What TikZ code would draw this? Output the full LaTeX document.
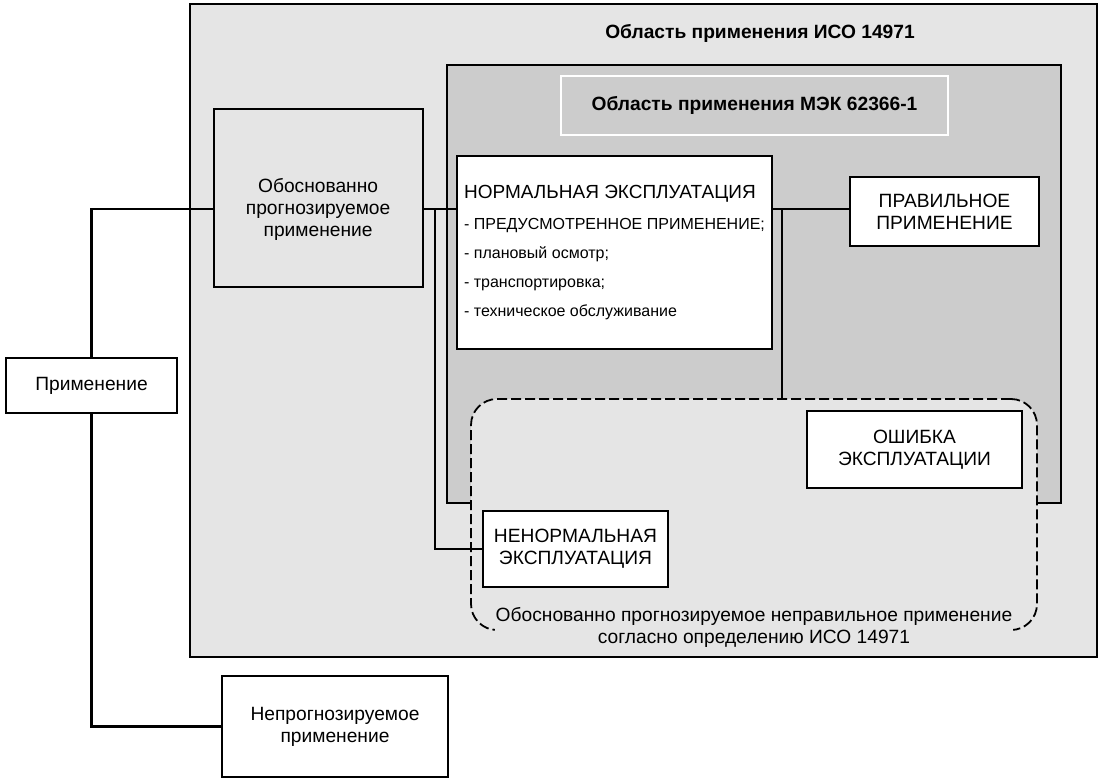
\documentclass[tikz,border=0pt]{standalone}
\usepackage{fontspec}
\setmainfont{Liberation Sans}
\usepackage{xcolor}
\usetikzlibrary{positioning}
\definecolor{isogray}{HTML}{E5E5E5}
\definecolor{iecgray}{HTML}{CCCCCC}
\tikzset{
  box/.style={draw=black, line width=1.8pt, fill=white, align=center, inner sep=0pt},
  conn/.style={draw=black, line width=2.2pt},
  misuse/.style={draw=black, line width=1.8pt, dash pattern=on 10pt off 4pt, rounded corners=26pt, fill=isogray},
  titlefont/.style={font=\bfseries\fontsize{19.2}{22}\selectfont}
}

\begin{document}
\begin{tikzpicture}[x=1pt, y=-1pt, font=\fontsize{19.2}{22}\selectfont]
	\useasboundingbox (0,0) rectangle (1102,778);
	% scope areas
	\draw[line width=2.6pt, fill=isogray] (190,4) rectangle (1097,657);
	\node[titlefont] (isotitle) at (760,33) {Область применения ИСО 14971};
	\draw[line width=1.8pt, fill=iecgray] (447,65) rectangle (1061,503);
	\node[titlefont, draw=white, line width=1.8pt, minimum width=387, minimum height=59] (iectitle) at (754.5,105.5) {Область применения МЭК 62366-1};
	\node[misuse, minimum width=566, minimum height=231] (misuse) at (754,514.5) {};
	\node[fill=isogray, inner sep=1pt, align=center] (misusetext) at (754,627.5) {Обоснованно прогнозируемое неправильное применение\\согласно определению ИСО 14971};

	% boxes
	\node[box, minimum width=171, minimum height=55] (prim) at (91.5,385.5) {Применение};
	\node[box, fill=isogray, minimum width=209, minimum height=178, anchor=north west] (obos) at (212.7,108) {};
	\coordinate (row) at (0,209);
	\node[align=center] (obostext) at (obos.center |- row) {Обоснованно\\прогнозируемое\\применение};
	\node[box, minimum width=226, minimum height=101] (unfor) at (335,726.5) {Непрогнозируемое\\применение};
	\node[box, minimum width=315, minimum height=193, align=left, font=\fontsize{16}{29}\selectfont] (normal) at (614.5,252.5)
		{{\fontsize{19}{22}\selectfont НОРМАЛЬНАЯ ЭКСПЛУАТАЦИЯ}\\[2pt]- ПРЕДУСМОТРЕННОЕ ПРИМЕНЕНИЕ;\\- плановый осмотр;\\- транспортировка;\\- техническое обслуживание};
	\node[box, minimum width=189, minimum height=69] (prav) at (944.5,211.5) {ПРАВИЛЬНОЕ\\ПРИМЕНЕНИЕ};
	\node[box, minimum width=215, minimum height=77] (error) at (914.5,449.5) {ОШИБКА\\ЭКСПЛУАТАЦИИ};
	\node[box, minimum width=185, minimum height=76] (abnorm) at (575.5,549) {НЕНОРМАЛЬНАЯ\\ЭКСПЛУАТАЦИЯ};

	% connectors
	\coordinate (jl) at (435,209);
	\coordinate (jr) at (782,209);
	\draw[conn] (prim.north) |- (row -| obos.west);
	\draw[conn] (prim.south) |- (unfor.west);
	\draw[conn] (row -| obos.east) -- (row -| normal.west);
	\draw[conn] (jl) |- (abnorm.west);
	\draw[conn] (row -| normal.east) -- (row -| prav.west);
	\draw[conn] (jr) -- (jr |- misuse.north);
\end{tikzpicture}
\end{document}
